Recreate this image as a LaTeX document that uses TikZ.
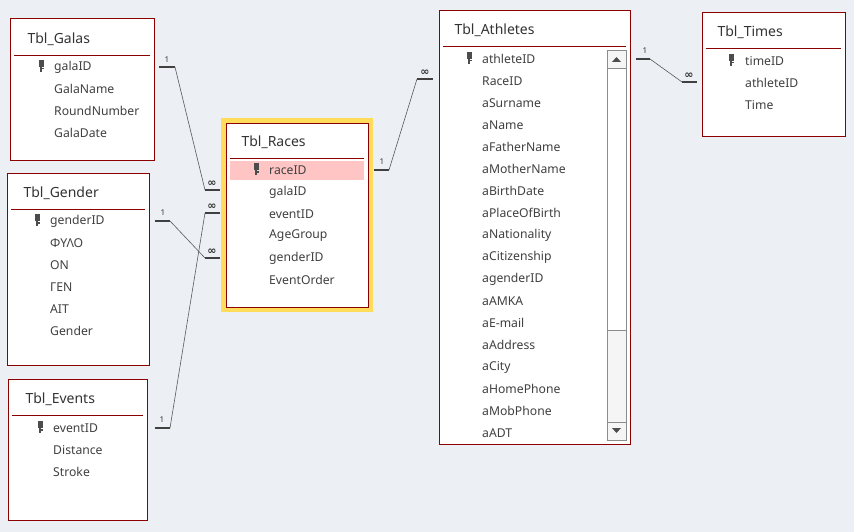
\documentclass[tikz,border=0pt]{standalone}
\usepackage{fontspec}
\setmainfont{Noto Sans}
\newfontfamily\djv{DejaVu Sans}
\definecolor{bgc}{RGB}{236,239,243}
\definecolor{selc}{RGB}{255,220,90}
\definecolor{hlc}{RGB}{255,196,196}
\begin{document}
\begin{tikzpicture}[x=1pt,y=-1pt,
  tbl/.style={draw=red!55!black,fill=white,line width=0.8pt},
  ttl/.style={anchor=west,font=\fontsize{14}{16}\selectfont,text=black!80},
  fld/.style={anchor=west,font=\fontsize{12.2}{14}\selectfont,text=black!75,inner sep=0pt},
  sep/.style={draw=red!55!black,line width=0.6pt},
  lnk/.style={draw=black!65,line width=0.6pt},
  bar/.style={draw=black!75,line width=2.4pt},
  card/.style={font=\fontsize{8}{9}\bfseries\selectfont,text=black!80,inner sep=0pt},
  inf/.style={font=\djv\fontsize{11}{11}\bfseries\selectfont,text=black!80,inner sep=0pt}]
\useasboundingbox[fill=bgc] (0,0) rectangle (854,532);
\newcommand{\keyicon}[2]{\fill[black!70] (#1-2.5,#2-6) rectangle (#1+2.5,#2+1);\fill[black!70] (#1-1,#2) rectangle (#1+1,#2+6);\fill[black!70] (#1+1,#2+2) rectangle (#1+2.5,#2+3.5);}
% Galas
\draw[tbl] (10,18) rectangle (154,160);
\node[ttl] (tg) at (24,39) {Tbl\_Galas};
\draw[sep] (14,55) -- (150,55);
\keyicon{41}{66}
\node[fld] (g1) at (54,67) {galaID};
\node[fld] (g2) at (54,89) {GalaName};
\node[fld] (g3) at (54,111) {RoundNumber};
\node[fld] (g4) at (54,133) {GalaDate};
% Gender
\draw[tbl] (7,173) rectangle (149,365);
\node[ttl] (tge) at (20,193) {Tbl\_Gender};
\draw[sep] (11,209) -- (145,209);
\keyicon{37}{220}
\node[fld] (e1) at (50,221) {genderID};
\node[fld] at (50,243) {ΦΥΛΟ};
\node[fld] at (50,265) {ON};
\node[fld] at (50,287) {ΓΕΝ};
\node[fld] at (50,309) {ΑΙΤ};
\node[fld] at (50,331) {Gender};
% Events
\draw[tbl] (8,379) rectangle (147,520);
\node[ttl] at (22,399) {Tbl\_Events};
\draw[sep] (12,415) -- (143,415);
\keyicon{40}{427}
\node[fld] (v1) at (53,428) {eventID};
\node[fld] at (53,450) {Distance};
\node[fld] at (53,472) {Stroke};
% Races
\fill[selc] (221,118) rectangle (373,312);
\draw[tbl] (226,123) rectangle (368,307);
\node[ttl] at (238,142) {Tbl\_Races};
\draw[sep] (230,158) -- (364,158);
\fill[hlc] (230,161) rectangle (364,180);
\keyicon{256}{169}
\node[fld] (r1) at (269,170) {raceID};
\node[fld] at (269,192) {galaID};
\node[fld] at (269,214) {eventID};
\node[fld] at (269,236) {AgeGroup};
\node[fld] at (269,258) {genderID};
\node[fld] at (269,280) {EventOrder};
% Athletes
\draw[tbl] (439,10) rectangle (630,444);
\node[ttl] at (451,30) {Tbl\_Athletes};
\draw[sep] (443,46) -- (626,46);
\keyicon{469}{58}
\foreach \t [count=\i from 0] in {athleteID,RaceID,aSurname,aName,aFatherName,aMotherName,aBirthDate,aPlaceOfBirth,aNationality,aCitizenship,agenderID,aAMKA,aE-mail,aAddress,aCity,aHomePhone,aMobPhone,aADT}
  \node[fld] at (482,59+22*\i) {\t};
\draw[black!45,fill=black!4] (607,50) rectangle (626,440);
\draw[black!45,fill=white] (607,68) rectangle (626,330);
\draw[black!45] (607,422) -- (626,422);
\fill[black!70] (612,62) -- (621,62) -- (616.5,57) -- cycle;
\fill[black!70] (612,428) -- (621,428) -- (616.5,433) -- cycle;
% Times
\draw[tbl] (702,12) rectangle (845,136);
\node[ttl] at (714,32) {Tbl\_Times};
\draw[sep] (706,48) -- (841,48);
\keyicon{731}{60}
\node[fld] at (745,61) {timeID};
\node[fld] at (745,83) {athleteID};
\node[fld] at (745,105) {Time};
% connectors
\coordinate (a1) at (159,67); \coordinate (a2) at (175,67); \coordinate (a3) at (205,190); \coordinate (a4) at (220,190);
\draw[bar] (a1) -- (a2); \draw[lnk] (a2) -- (a3); \draw[bar] (a3) -- (a4);
\node[card] at (167,60) {1}; \node[inf] at (212,184) {∞};
\coordinate (b1) at (155,221); \coordinate (b2) at (170,221); \coordinate (b3) at (205,258); \coordinate (b4) at (220,258);
\draw[bar] (b1) -- (b2); \draw[lnk] (b2) -- (b3); \draw[bar] (b3) -- (b4);
\node[card] at (163,213) {1}; \node[inf] at (212,252) {∞};
\coordinate (c1) at (155,428); \coordinate (c2) at (170,428); \coordinate (c3) at (205,213); \coordinate (c4) at (220,213);
\draw[bar] (c1) -- (c2); \draw[lnk] (c2) -- (c3); \draw[bar] (c3) -- (c4);
\node[card] at (162,420) {1}; \node[inf] at (212,207) {∞};
\coordinate (d1) at (374,170); \coordinate (d2) at (389,170); \coordinate (d3) at (417,79); \coordinate (d4) at (433,79);
\draw[bar] (d1) -- (d2); \draw[lnk] (d2) -- (d3); \draw[bar] (d3) -- (d4);
\node[card] at (382,162) {1}; \node[inf] at (425,73) {∞};
\coordinate (f1) at (636,59); \coordinate (f2) at (650,59); \coordinate (f3) at (682,82); \coordinate (f4) at (697,82);
\draw[bar] (f1) -- (f2); \draw[lnk] (f2) -- (f3); \draw[bar] (f3) -- (f4);
\node[card] at (645,51) {1}; \node[inf] at (689,76) {∞};
\end{tikzpicture}
\end{document}
